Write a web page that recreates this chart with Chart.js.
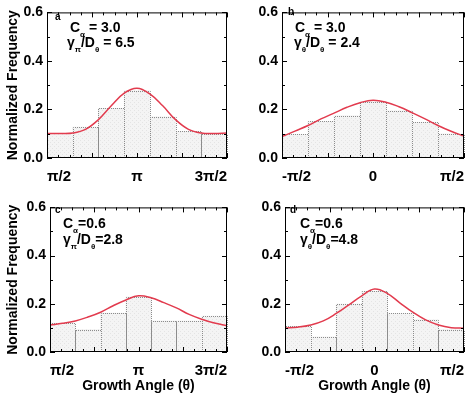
<!DOCTYPE html>
<html>
<head>
<meta charset="utf-8">
<script src="https://cdn.jsdelivr.net/npm/chart.js@4.4.1/dist/chart.umd.min.js"></script>
<style>
  html, body { margin: 0; padding: 0; background: #fff; }
  #wrap { position: relative; width: 474px; height: 395px; overflow: hidden; }
  canvas { position: absolute; }
</style>
</head>
<body>
<div id="wrap">
  <canvas id="pa" width="237" height="195" style="left:0;top:0"></canvas>
  <canvas id="pb" width="237" height="195" style="left:237px;top:0"></canvas>
  <canvas id="pc" width="237" height="200" style="left:0;top:195px"></canvas>
  <canvas id="pd" width="237" height="200" style="left:237px;top:195px"></canvas>
</div>
<script>
// bin centres and curve sample points, in units of pi
const binsAC = [0.571, 0.714, 0.857, 1.000, 1.143, 1.286, 1.429];
const binsBD = [-0.429, -0.286, -0.143, 0.000, 0.143, 0.286, 0.429];
const curveXAC = [0.5, 0.571, 0.643, 0.714, 0.786, 0.857, 0.929, 1.0, 1.071, 1.143, 1.214, 1.286, 1.357, 1.429, 1.5];
const curveXBD = [-0.5, -0.429, -0.357, -0.286, -0.214, -0.143, -0.071, 0, 0.071, 0.143, 0.214, 0.286, 0.357, 0.429, 0.5];

// tick labels
const xTicksAC = { 0.5: 'π/2', 1: 'π', 1.5: '3π/2' };
const xTicksBD = { '-0.5': '-π/2', 0: '0', 0.5: 'π/2' };

// histogram heights
const barsA = [0.101, 0.127, 0.205, 0.278, 0.170, 0.110, 0.097];
const barsB = [0.098, 0.151, 0.175, 0.232, 0.194, 0.147, 0.100];
const barsC = [0.120, 0.093, 0.161, 0.229, 0.129, 0.129, 0.149];
const barsD = [0.107, 0.063, 0.199, 0.252, 0.160, 0.133, 0.093];

// fitted curves
const fitA = [0.101, 0.101, 0.103, 0.118, 0.158, 0.215, 0.267, 0.287, 0.264, 0.215, 0.158, 0.118, 0.103, 0.101, 0.103];
const fitB = [0.088, 0.111, 0.134, 0.161, 0.185, 0.209, 0.228, 0.238, 0.230, 0.211, 0.187, 0.161, 0.134, 0.110, 0.090];
const fitC = [0.112, 0.119, 0.129, 0.145, 0.165, 0.192, 0.216, 0.233, 0.225, 0.205, 0.183, 0.156, 0.136, 0.120, 0.109];
const fitD = [0.099, 0.103, 0.112, 0.129, 0.160, 0.196, 0.233, 0.261, 0.243, 0.203, 0.165, 0.133, 0.112, 0.101, 0.099];

const FONT = '"Liberation Sans", Arial, sans-serif';
Chart.defaults.font.family = FONT;
Chart.defaults.color = '#000';

// light dotted fill for the bars
function hatch() {
  const c = document.createElement('canvas');
  c.width = 4; c.height = 4;
  const g = c.getContext('2d');
  g.fillStyle = '#f4f4f4';
  g.fillRect(0, 0, 4, 4);
  g.fillStyle = '#e4e4e4';
  g.fillRect(0, 0, 1, 1);
  g.fillRect(2, 2, 1, 1);
  return g.createPattern(c, 'repeat');
}

// dotted outlines of the bars, drawn before the curve
const barOutline = {
  id: 'barOutline',
  afterDatasetDraw(chart, args) {
    if (args.meta.type !== 'bar') return;
    const ctx = chart.ctx;
    ctx.save();
    ctx.strokeStyle = '#8c8c8c';
    ctx.lineWidth = 1;
    ctx.setLineDash([1, 1]);
    args.meta.data.forEach(el => {
      const p = el.getProps(['x', 'y', 'base', 'width'], true);
      const l = Math.round(p.x - p.width / 2) + 0.5;
      const r = Math.round(p.x + p.width / 2) + 0.5;
      const t = Math.round(p.y) + 0.5;
      const b = Math.round(p.base);
      ctx.beginPath();
      ctx.moveTo(l, b); ctx.lineTo(l, t); ctx.lineTo(r, t); ctx.lineTo(r, b);
      ctx.stroke();
    });
    ctx.restore();
  }
};

// frame with inward ticks on all four sides, plus the text in the corner
function frameTicks(note) {
  return {
    id: 'frameTicks',
    afterDraw(chart) {
      const { ctx, chartArea: a, scales: { x, y } } = chart;
      ctx.save();
      ctx.strokeStyle = '#000';
      ctx.lineWidth = 1;
      ctx.strokeRect(a.left + 0.5, a.top + 0.5, a.right - a.left - 1, a.bottom - a.top - 1);
      ctx.beginPath();
      for (let i = 0; i <= 6; i++) {
        const py = Math.round(y.getPixelForValue(i / 10)) + 0.5;
        const len = i % 2 === 0 ? 5 : 3;
        ctx.moveTo(a.left, py); ctx.lineTo(a.left + len, py);
        ctx.moveTo(a.right, py); ctx.lineTo(a.right - len, py);
      }
      for (let i = 0; i <= 16; i++) {
        const px = Math.round(x.getPixelForValue(x.min + i / 16)) + 0.5;
        const len = i % 4 === 0 ? 5 : 3;
        ctx.moveTo(px, a.bottom); ctx.lineTo(px, a.bottom - len);
        ctx.moveTo(px, a.top); ctx.lineTo(px, a.top + len);
      }
      ctx.stroke();

      ctx.fillStyle = '#000';
      ctx.textAlign = 'left';
      ctx.textBaseline = 'alphabetic';
      ctx.font = 'bold 10px ' + FONT;
      ctx.fillText(note.tag[0], note.tag[1], note.tag[2]);
      note.lines.forEach(line => {
        let px = line.at[0];
        line.parts.forEach(p => {
          const sub = p[1] === 1;
          ctx.font = (sub ? 'bold 8px ' : 'bold 14px ') + FONT;
          ctx.fillText(p[0], px, sub ? line.at[1] + 5 : line.at[1]);
          px += ctx.measureText(p[0]).width;
        });
      });
      ctx.restore();
    }
  };
}

function panel(id, o) {
  const pattern = hatch();
  new Chart(document.getElementById(id), {
    type: 'bar',
    data: {
      datasets: [
        {
          type: 'line',
          data: o.curveX.map((v, i) => ({ x: v, y: o.fit[i] })),
          borderColor: '#e23b4e',
          borderWidth: 1.5,
          pointRadius: 0,
          tension: 0.4,
          fill: false,
          order: 1
        },
        {
          type: 'bar',
          data: o.bins.map((v, i) => ({ x: v, y: o.bars[i] })),
          backgroundColor: pattern,
          borderWidth: 0,
          barPercentage: 1,
          categoryPercentage: 1,
          order: 2
        }
      ]
    },
    options: {
      responsive: false,
      animation: false,
      devicePixelRatio: 1,
      layout: { padding: { left: 0, top: 6, right: o.right, bottom: 0 } },
      plugins: {
        legend: { display: false },
        tooltip: { enabled: false }
      },
      scales: {
        x: {
          type: 'linear',
          offset: false,
          min: o.curveX[0],
          max: o.curveX[o.curveX.length - 1],
          grid: { display: false, drawTicks: false, offset: false },
          border: { display: false },
          afterFit: s => { s.height = o.xH; },
          ticks: {
            stepSize: 0.5,
            align: 'inner',
            padding: 10,
            maxRotation: 0,
            font: { size: 15, weight: 'bold' },
            callback: v => o.xLabels[v] !== undefined ? o.xLabels[v] : ''
          },
          title: {
            display: !!o.xTitle,
            text: o.xTitle || '',
            font: { size: 14, weight: 'bold' },
            padding: { top: 0, bottom: 0 }
          }
        },
        y: {
          min: 0,
          max: 0.6,
          grid: { display: false, drawTicks: false },
          border: { display: false },
          afterFit: s => { s.width = o.yW; },
          ticks: {
            stepSize: 0.2,
            padding: 4,
            font: { size: 14, weight: 'bold' },
            callback: v => v.toFixed(1)
          },
          title: {
            display: !!o.yTitle,
            text: o.yTitle || '',
            font: { size: 14, weight: 'bold' },
            padding: { top: 5, bottom: 0 }
          }
        }
      }
    },
    plugins: [barOutline, frameTicks(o.note)]
  });
}

panel('pa', {
  bins: binsAC, bars: barsA, curveX: curveXAC, fit: fitA, xLabels: xTicksAC,
  yTitle: 'Normalized Frequency', yW: 47, xH: 37, right: 4,
  note: {
    tag: ['a', 55, 20],
    lines: [
      { at: [70, 32], parts: [['C'], ['α', 1], [' = 3.0']] },
      { at: [67, 47], parts: [['γ'], ['π', 1], ['/D'], ['θ', 1], [' = 6.5']] }
    ]
  }
});
panel('pb', {
  bins: binsBD, bars: barsB, curveX: curveXBD, fit: fitB, xLabels: xTicksBD,
  yW: 45, xH: 37, right: 5,
  note: {
    tag: ['b', 51, 15],
    lines: [
      { at: [58, 32], parts: [['C'], ['α', 1], [' = 3.0']] },
      { at: [57, 47], parts: [['γ'], ['θ', 1], ['/D'], ['θ', 1], [' = 2.4']] }
    ]
  }
});
panel('pc', {
  bins: binsAC, bars: barsC, curveX: curveXAC, fit: fitC, xLabels: xTicksAC,
  yTitle: 'Normalized Frequency', xTitle: 'Growth Angle (θ)', yW: 50, xH: 43, right: 4,
  note: {
    tag: ['c', 55, 18],
    lines: [
      { at: [63, 33], parts: [['C'], ['α', 1], ['=0.6']] },
      { at: [63, 49], parts: [['γ'], ['π', 1], ['/D'], ['θ', 1], ['=2.8']] }
    ]
  }
});
panel('pd', {
  bins: binsBD, bars: barsD, curveX: curveXBD, fit: fitD, xLabels: xTicksBD,
  xTitle: 'Growth Angle (θ)', yW: 48, xH: 43, right: 4,
  note: {
    tag: ['d', 53, 18],
    lines: [
      { at: [63, 33], parts: [['C'], ['α', 1], ['=0.6']] },
      { at: [63, 49], parts: [['γ'], ['θ', 1], ['/D'], ['θ', 1], ['=4.8']] }
    ]
  }
});
</script>
</body>
</html>
